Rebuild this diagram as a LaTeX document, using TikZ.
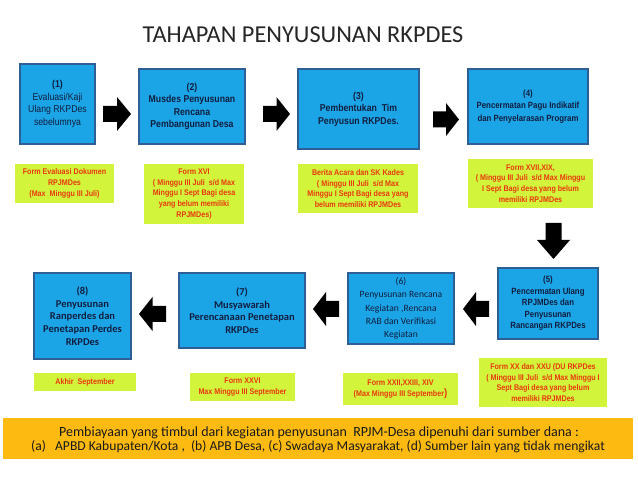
\documentclass[tikz,border=0pt]{standalone}
\usepackage{fontspec}
\setmainfont{Carlito}
\newfontfamily\arialn[FakeStretch=0.87]{Liberation Sans}
\definecolor{boxblue}{HTML}{1CA5E6}
\definecolor{boxedge}{HTML}{2F5E96}
\definecolor{navy}{HTML}{101E40}
\definecolor{limey}{HTML}{D2F53C}
\definecolor{redt}{HTML}{E8380C}
\definecolor{barc}{HTML}{FDBB12}
\tikzset{
  bluebox/.style={draw=boxedge, line width=1.3pt, fill=boxblue, align=center, text=navy, inner sep=0pt},
  ybox/.style={fill=limey, align=center, text=redt, inner sep=0pt,
    font=\arialn\bfseries\fontsize{8.2}{10.7}\selectfont},
  pics/barrow/.style n args={4}{code={
    \fill[black] (-#1,-#3) -- (#2,-#3) -- (#2,-#4) -- (#1,0) -- (#2,#4) -- (#2,#3) -- (-#1,#3) -- cycle;}}
}
\begin{document}
\begin{tikzpicture}[x=1pt,y=-1pt]
\useasboundingbox (0,0) rectangle (638,478);
\fill[white] (0,0) rectangle (638,478);

\node[anchor=base, font=\fontsize{24.3}{28}\selectfont, text=black!85] (title) at (303,42.5) {TAHAPAN PENYUSUNAN RKPDES};

% top row
\node[bluebox, minimum width=75, minimum height=80, font=\arialn\fontsize{10}{12.7}\selectfont] (b1) at (57.5,104)
  {{\bfseries (1)}\\Evaluasi/Kaji\\Ulang RKPDes\\sebelumnya};
\node[bluebox, minimum width=106, minimum height=75, font=\arialn\bfseries\fontsize{10}{12.3}\selectfont] (b2) at (192,106.5)
  {(2)\\Musdes Penyusunan\\Rencana\\Pembangunan Desa};
\node[bluebox, minimum width=121, minimum height=80, font=\arialn\bfseries\fontsize{10}{12.5}\selectfont] (b3) at (358.5,109)
  {(3)\\Pembentukan\ \ Tim\\Penyusun RKPDes.};
\node[bluebox, minimum width=120, minimum height=75, font=\arialn\bfseries\fontsize{9}{12.5}\selectfont] (b4) at (528,106.5)
  {(4)\\Pencermatan Pagu Indikatif\\dan Penyelarasan Program};

% bottom row
\node[bluebox, minimum width=100, minimum height=71, font=\arialn\bfseries\fontsize{9}{11.5}\selectfont] (b5) at (548,303.5)
  {(5)\\Pencermatan Ulang\\RPJMDes dan\\Penyusunan\\Rancangan RKPDes};
\node[bluebox, minimum width=106, minimum height=71, font=\fontsize{9.6}{13.3}\selectfont] (b6) at (401,308.5)
  {(6)\\Penyusunan Rencana\\Kegiatan ,Rencana\\RAB dan Verifikasi\\Kegiatan};
\node[bluebox, minimum width=126, minimum height=75, font=\bfseries\fontsize{10.5}{12.7}\selectfont] (b7) at (242,310.5)
  {(7)\\Musyawarah\\Perencanaan Penetapan\\RKPDes};
\node[bluebox, minimum width=97, minimum height=86, font=\bfseries\fontsize{10.5}{12.7}\selectfont] (b8) at (82.5,316)
  {(8)\\Penyusunan\\Ranperdes dan\\Penetapan Perdes\\RKPDes};

% yellow notes
\node[ybox, minimum width=99, minimum height=39] (y1) at (64.5,183.5)
  {Form Evaluasi Dokumen\\RPJMDes\\(Max\ \ Minggu III Juli)};
\node[ybox, minimum width=100, minimum height=60] (y2) at (194,194)
  {Form XVI\\( Minggu III Juli\ \ s/d Max\\Minggu I Sept Bagi desa\\yang belum memiliki\\RPJMDes)};
\node[ybox, minimum width=120, minimum height=49] (y3) at (358,188.5)
  {Berita Acara dan SK Kades\\( Minggu III Juli\ \ s/d Max\\Minggu I Sept Bagi desa yang\\belum memiliki RPJMDes};
\node[ybox, minimum width=125, minimum height=49] (y4) at (530.5,183.5)
  {Form XVII,XIX,\\( Minggu III Juli\ \ s/d Max Minggu\\I Sept Bagi desa yang belum\\memiliki RPJMDes};
\node[ybox, minimum width=128, minimum height=49] (y5) at (543,382.5)
  {Form XX dan XXU (DU RKPDes\\( Minggu III Juli\ \ s/d Max Minggu I\\Sept Bagi desa yang belum\\memiliki RPJMDes};
\node[ybox, minimum width=115, minimum height=32] (y6) at (400.5,389)
  {Form XXII,XXIII, XIV\\(Max Minggu III September{\fontsize{11}{11}\selectfont)}};
\node[ybox, minimum width=105, minimum height=28] (y7) at (242.5,387)
  {Form XXVI\\Max Minggu III September};
\node[ybox, minimum width=102, minimum height=18] (y8) at (85,382)
  {Akhir\ \ September};

% block arrows
\pic (a12) at (117,114) {barrow={14}{0}{8}{17}};
\pic (a23) at (276.5,114) {barrow={13.5}{0}{8}{17}};
\pic (a34) at (446,119.5) {barrow={13}{0}{8}{16.5}};
\pic[rotate=-90] (a45) at (553.5,241) {barrow={18}{-1}{8}{16.5}};
\pic[rotate=180] (a56) at (476,309) {barrow={13}{0}{8}{17}};
\pic[rotate=180] (a67) at (326,309) {barrow={13}{0}{8}{17}};
\pic[rotate=180] (a78) at (152.5,314) {barrow={13.5}{0}{8}{17}};

% funding bar
\node[fill=barc, minimum width=630, minimum height=41, inner sep=0pt] (bar) at (318,438.5) {};
\node[anchor=base, font=\fontsize{14}{16}\selectfont, text=black!90] (bar1) at (319,436.5)
  {Pembiayaan yang timbul dari kegiatan penyusunan\ \ RPJM-Desa dipenuhi dari sumber dana :};
\node[anchor=base, font=\fontsize{13.6}{16}\selectfont, text=black!90] (bar2) at (318,450.5)
  {(a)\ \ \ APBD Kabupaten/Kota ,\ \ (b) APB Desa, (c) Swadaya Masyarakat, (d) Sumber lain yang tidak mengikat};
\end{tikzpicture}
\end{document}
